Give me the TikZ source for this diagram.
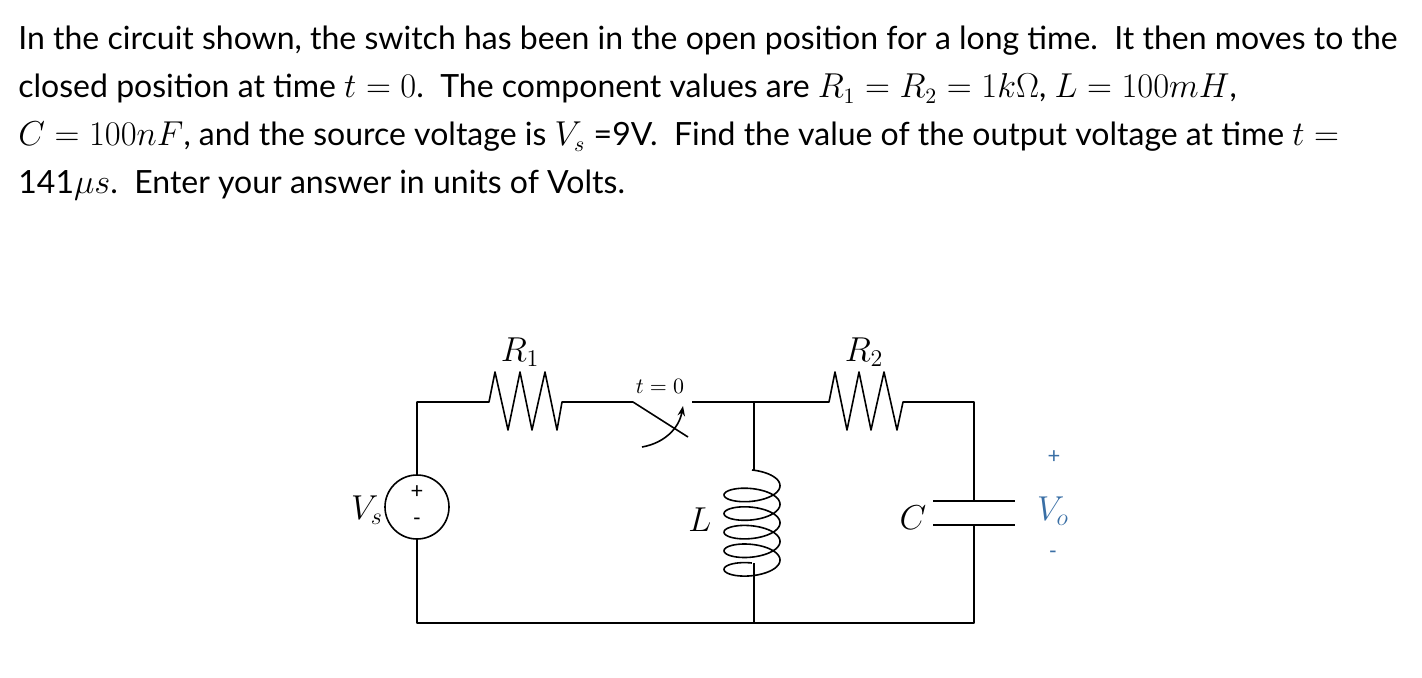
\documentclass[tikz,border=0pt]{standalone}
\usepackage{amsmath}
\usepackage{fontspec}
\setmainfont{Lato}
\usetikzlibrary{arrows.meta}
\definecolor{vocol}{RGB}{58,111,165}
\tikzset{
  wire/.style={draw,thick,line join=round},
  txt/.style={anchor=base west,inner sep=0pt,font=\fontsize{16}{19}\selectfont},
  lbl/.style={inner sep=0pt,font=\fontsize{18}{20}\selectfont},
  small/.style={inner sep=0pt,font=\fontsize{11}{13}\selectfont}
}
\begin{document}
\begin{tikzpicture}[x=0.5pt,y=-0.5pt]
    \useasboundingbox (0,0) rectangle (1422,678);
    % question text
    \node[txt] (l1) at (18,50) {In the circuit shown, the switch has been in the open position for a long time.\ \ It then moves to the};
    \node[txt] (l2) at (18,98) {closed position at time $t=0$.\ \ The component values are $R_1=R_2=1k\Omega$, $L=100mH$,};
    \node[txt] (l3) at (18,146) {$C=100nF$, and the source voltage is $V_s$ =9V.\ \ Find the value of the output voltage at time $t=$};
    \node[txt] (l4) at (18,194) {141$\mu s$.\ \ Enter your answer in units of Volts.};
    % corner points
    \coordinate (tl) at (417,402);
    \coordinate (bl) at (417,623);
    \coordinate (tm) at (754,402);
    \coordinate (bm) at (754,623);
    \coordinate (tr) at (974,402);
    \coordinate (br) at (974,623);
    % source
    \node[draw,thick,circle,inner sep=0pt,minimum size=32pt] (vs) at (417,507) {};
    \node[small] at (417,492) {+};
    \node[small] at (417,522) {-};
    \node[lbl] (vslbl) at (367,510) {$V_s$};
    % R1 and switch
    \draw[wire] (vs.north) -- (tl) -- (489,402) -- (495,372) -- (508,430) -- (520,372) -- (532,430)
        -- (545,372) -- (557,430) -- (562,402) -- (633,402) coordinate (sw) -- (688,437);
    \node[lbl] (r1) at (520,352) {$R_1$};
    \draw[wire] (692,402) coordinate (swc) -- (tm) -- (829,402) -- (835,372) -- (847,430) -- (859,372)
        -- (871,430) -- (884,372) -- (897,430) -- (903,402) -- (tr) -- (974,501);
    \node[lbl] (r2) at (864,352) {$R_2$};
    \draw[thick,-{Stealth[length=5pt]}] (642,447) to[bend right=35] (683,406);
    \node[small] (t0) at (660,386) {$t=0$};
    % inductor
    \draw[wire] (tm) -- (754,470)
        plot[domain=0:31.416,samples=300,variable=\t] ({752+28*sin(\t r)},{470+93*\t/31.416+11*(1-cos(\t r))});
    \draw[wire] (754,563) -- (bm);
    \node[lbl] (llbl) at (700,520) {$L$};
    % capacitor
    \draw[wire] (933,501) -- (1015,501);
    \draw[wire] (933,525) -- (1015,525);
    \draw[wire] (974,525) -- (br) -- (bl) -- (vs.south);
    \node[lbl] (clbl) at (913,518) {$C$};
    % output
    \node[small,text=vocol] (vop) at (1054,457) {+};
    \node[lbl,text=vocol] (vo) at (1053,511) {$V_o$};
    \node[small,text=vocol] (vom) at (1053,555) {-};
\end{tikzpicture}
\end{document}
